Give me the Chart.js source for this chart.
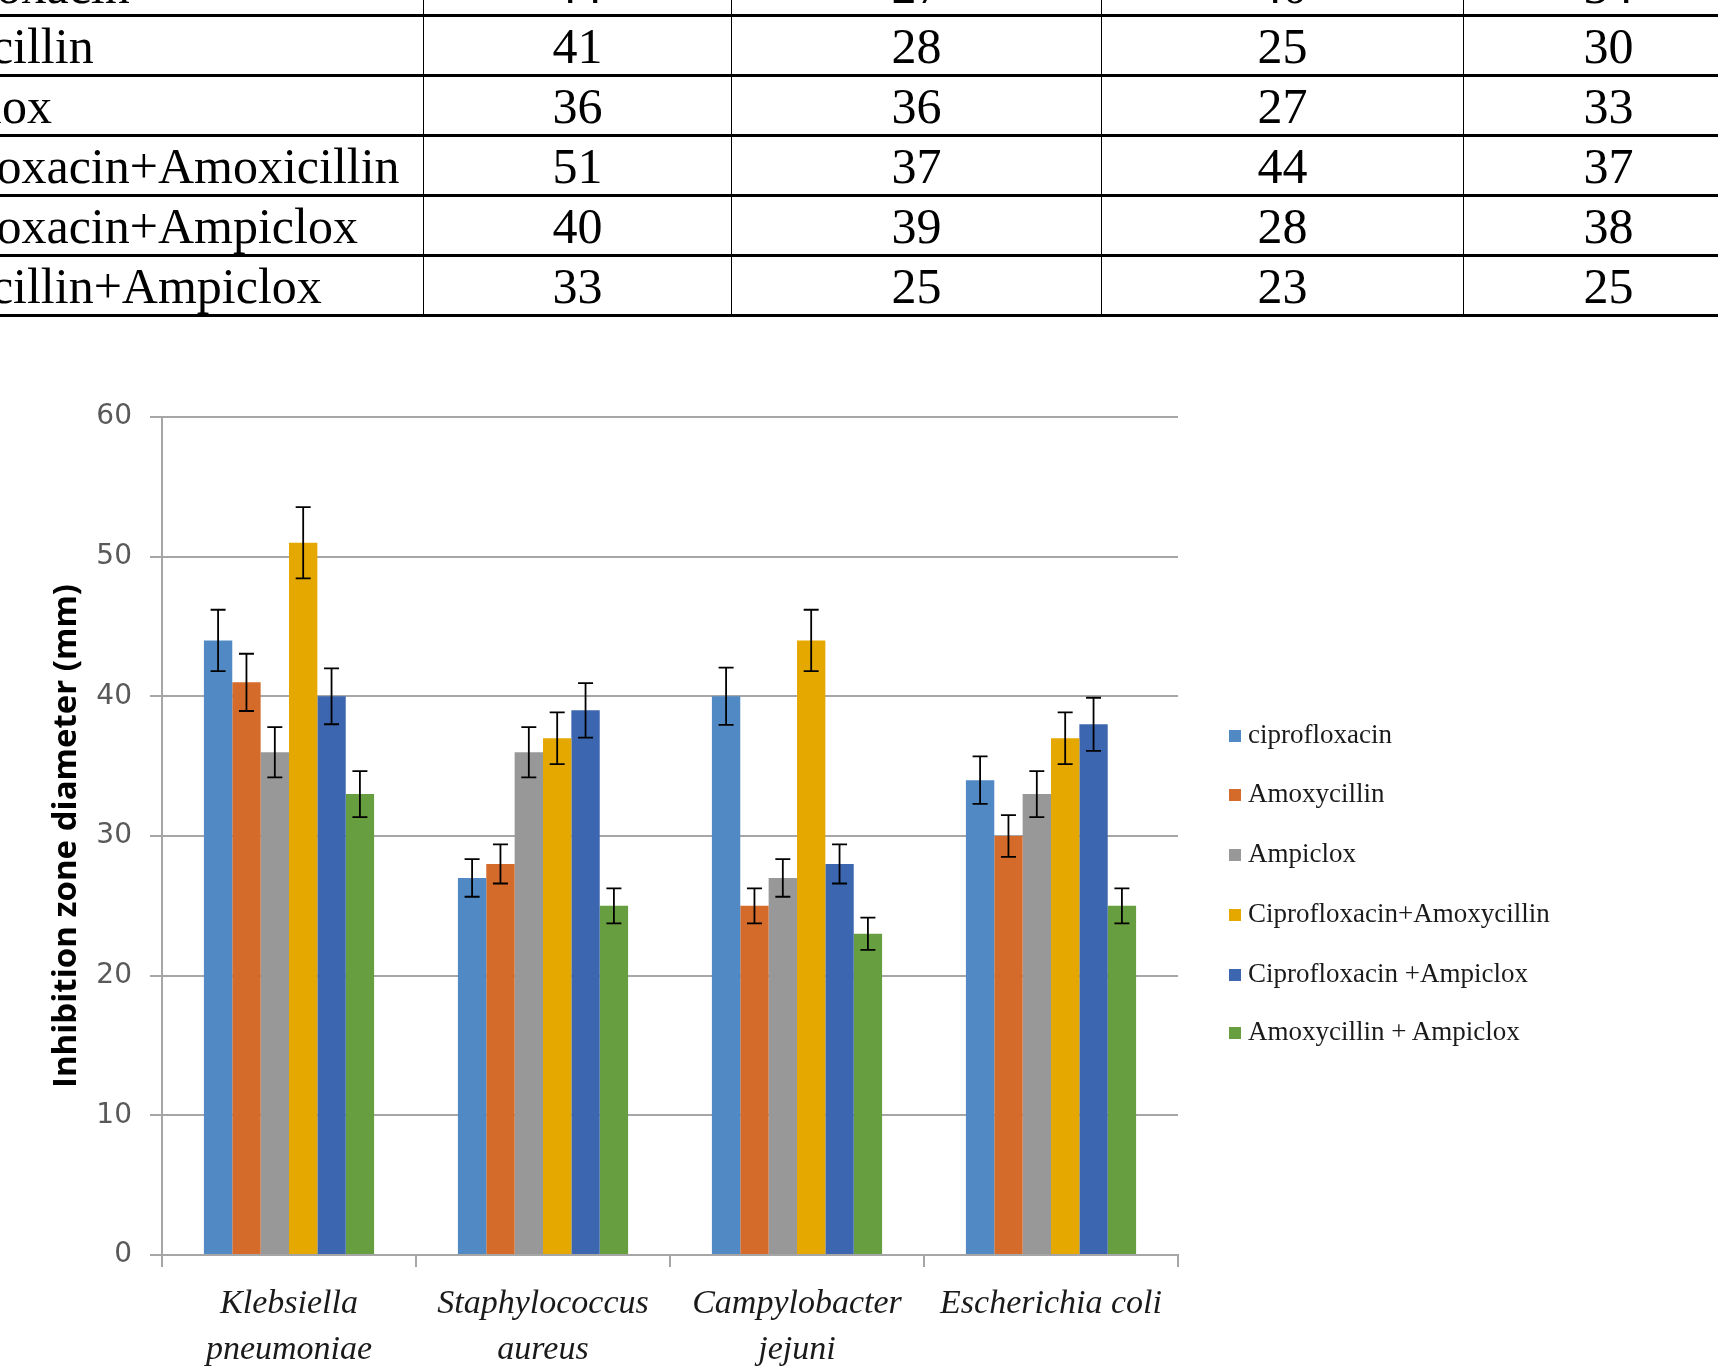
<!DOCTYPE html>
<html>
<head>
<title>Inhibition zone diameter</title>
<script src="https://cdn.jsdelivr.net/npm/chart.js"></script>
<style>
    body {
        margin: 0;
        width: 1718px;
        height: 1368px;
        overflow: hidden;
        background: #fff;
        position: relative;
        font-family: 'Liberation Serif', 'Times New Roman', serif;
        color: #000;
    }
    #tbl {
        position: absolute;
        left: -154px;
        top: -46px;
        width: 1907px;
        border-collapse: collapse;
        table-layout: fixed;
        font-size: 50px;
    }
    #tbl td {
        border-top: 3px solid #000;
        border-bottom: 3px solid #000;
        border-left: 1.5px solid #000;
        border-right: 1.5px solid #000;
        padding: 0;
        text-align: center;
        white-space: nowrap;
        line-height: 1;
        overflow: hidden;
    }
    #tbl tr { height: 60px; }
    #tbl td.name { text-align: left; padding-left: 5px; }
    #chart-box {
        position: absolute;
        left: 0;
        top: 330px;
        width: 1718px;
        height: 1070px;
    }
    #legend {
        position: absolute;
        left: 1229px;
        top: 0;
        font-size: 27px;
        color: #1a1a1a;
    }
    #legend div {
        position: absolute;
        white-space: nowrap;
        height: 30px;
        line-height: 30px;
    }
    #legend span.box {
        display: inline-block;
        width: 12px;
        height: 12px;
        margin-right: 7px;
        vertical-align: 1px;
    }
</style>
</head>
<body>
<table id="tbl"></table>
<div id="chart-box"><canvas id="myChart"></canvas></div>
<div id="legend"></div>

<script>
// bacteria on the x axis
const categories = [['Klebsiella', 'pneumoniae'], ['Staphylococcus', 'aureus'], ['Campylobacter', 'jejuni'], 'Escherichia coli'];
const seriesNames = ['ciprofloxacin', 'Amoxycillin', 'Ampiclox', 'Ciprofloxacin+Amoxycillin', 'Ciprofloxacin +Ampiclox', 'Amoxycillin + Ampiclox'];
const tableNames = ['Ciprofloxacin', 'Amoxicillin', 'Ampiclox', 'Ciprofloxacin+Amoxicillin', 'Ciprofloxacin+Ampiclox', 'Amoxicillin+Ampiclox'];
const colors = ['#5189c4', '#d56b2b', '#989898', '#e5a800', '#3d66b0', '#679e40'];

// inhibition zone diameter (mm)
const ciprofloxacin = [44, 27, 40, 34];
const amoxycillin = [41, 28, 25, 30];
const ampiclox = [36, 36, 27, 33];
const ciproAmox = [51, 37, 44, 37];
const ciproAmpi = [40, 39, 28, 38];
const amoxAmpi = [33, 25, 23, 25];

// error bar half-lengths
const errCiprofloxacin = [2.2, 1.35, 2.05, 1.7];
const errAmoxycillin = [2.05, 1.4, 1.25, 1.5];
const errAmpiclox = [1.8, 1.8, 1.35, 1.65];
const errCiproAmox = [2.55, 1.85, 2.2, 1.85];
const errCiproAmpi = [2.0, 1.95, 1.4, 1.9];
const errAmoxAmpi = [1.65, 1.25, 1.15, 1.25];

const yTicks = [0, 10, 20, 30, 40, 50, 60];

const seriesValues = [ciprofloxacin, amoxycillin, ampiclox, ciproAmox, ciproAmpi, amoxAmpi];
const seriesErrors = [errCiprofloxacin, errAmoxycillin, errAmpiclox, errCiproAmox, errCiproAmpi, errAmoxAmpi];

// table above the chart (cut off on the left and top)
const tbl = document.getElementById('tbl');
const colWidths = [577, 308, 370, 362, 290];
const colgroup = document.createElement('colgroup');
colWidths.forEach(w => {
    const c = document.createElement('col');
    c.style.width = w + 'px';
    colgroup.appendChild(c);
});
tbl.appendChild(colgroup);
tableNames.forEach((name, i) => {
    const tr = document.createElement('tr');
    const td = document.createElement('td');
    td.className = 'name';
    td.textContent = name;
    tr.appendChild(td);
    seriesValues[i].forEach(v => {
        const cell = document.createElement('td');
        cell.textContent = v;
        tr.appendChild(cell);
    });
    tbl.appendChild(tr);
});

// legend
const legend = document.getElementById('legend');
const legendY = [734, 793, 853, 913, 973, 1031];
seriesNames.forEach((name, i) => {
    const item = document.createElement('div');
    item.style.top = (legendY[i] - 15) + 'px';
    item.innerHTML = '<span class="box" style="background:' + colors[i] + '"></span>';
    item.appendChild(document.createTextNode(name));
    legend.appendChild(item);
});

const errorBars = {
    id: 'errorBars',
    afterDatasetsDraw(chart) {
        const ctx = chart.ctx;
        const y = chart.scales.y;
        ctx.save();
        ctx.strokeStyle = '#000';
        ctx.lineWidth = 1.8;
        chart.data.datasets.forEach((ds, i) => {
            const meta = chart.getDatasetMeta(i);
            meta.data.forEach((bar, j) => {
                const v = ds.data[j];
                const e = seriesErrors[i][j];
                const top = y.getPixelForValue(v + e);
                const bot = y.getPixelForValue(v - e);
                ctx.beginPath();
                ctx.moveTo(bar.x, top);
                ctx.lineTo(bar.x, bot);
                ctx.moveTo(bar.x - 7.5, top);
                ctx.lineTo(bar.x + 7.5, top);
                ctx.moveTo(bar.x - 7.5, bot);
                ctx.lineTo(bar.x + 7.5, bot);
                ctx.stroke();
            });
        });
        ctx.restore();
    }
};

const gridGray = '#a6a6a6';

new Chart(document.getElementById('myChart'), {
    type: 'bar',
    data: {
        labels: categories,
        datasets: seriesNames.map((name, i) => ({
            label: name,
            data: seriesValues[i],
            backgroundColor: colors[i],
            borderWidth: 0,
            categoryPercentage: 0.67,
            barPercentage: 1.0
        }))
    },
    options: {
        responsive: true,
        maintainAspectRatio: false,
        animation: false,
        layout: { padding: { left: 0, top: 87, right: 540, bottom: 15 } },
        plugins: {
            legend: { display: false },
            tooltip: { enabled: false }
        },
        scales: {
            x: {
                grid: {
                    drawOnChartArea: false,
                    drawTicks: true,
                    tickLength: 12,
                    color: gridGray,
                    lineWidth: 2
                },
                border: { color: gridGray, width: 2 },
                ticks: {
                    color: '#1a1a1a',
                    padding: 14,
                    maxRotation: 0,
                    autoSkip: false,
                    font: { family: "'Liberation Serif', serif", style: 'italic', size: 34, lineHeight: 1.35 }
                },
                afterFit: s => { s.height = 130; }
            },
            y: {
                min: 0,
                max: 60,
                afterBuildTicks: s => { s.ticks = yTicks.map(v => ({ value: v })); },
                grid: {
                    color: gridGray,
                    lineWidth: 2,
                    drawTicks: true,
                    tickLength: 12
                },
                border: { color: gridGray, width: 2 },
                ticks: {
                    color: '#595959',
                    padding: 18,
                    font: { family: "'DejaVu Sans', sans-serif", size: 28 }
                },
                title: {
                    display: true,
                    text: 'Inhibition zone diameter (mm)',
                    color: '#000',
                    padding: { top: 47, bottom: 0 },
                    font: { family: "'Open Sans', sans-serif", weight: 'bold', size: 33 }
                },
                afterFit: s => { s.width = 162; }
            }
        }
    },
    plugins: [errorBars]
});
</script>
</body>
</html>
